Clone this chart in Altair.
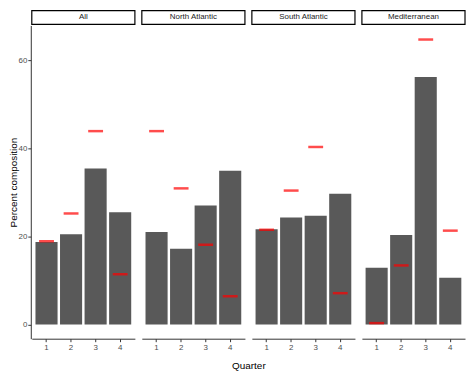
import altair as alt
import pandas as pd

regions = ["All", "North Atlantic", "South Atlantic", "Mediterranean"]
quarters = [1, 2, 3, 4]
bar_all = [18.7, 20.5, 35.4, 25.5]
bar_na = [21.0, 17.2, 27.0, 34.9]
bar_sa = [21.6, 24.3, 24.7, 29.7]
bar_med = [12.9, 20.3, 56.2, 10.6]
ref_all = [18.9, 25.2, 43.9, 11.4]
ref_na = [43.9, 30.9, 18.1, 6.4]
ref_sa = [21.5, 30.4, 40.3, 7.1]
ref_med = [0.3, 13.4, 64.7, 21.3]

bars_by_region = [bar_all, bar_na, bar_sa, bar_med]
refs_by_region = [ref_all, ref_na, ref_sa, ref_med]

rows = []
for r, bv, rv in zip(regions, bars_by_region, refs_by_region):
    for q, b, v in zip(quarters, bv, rv):
        rows.append({"region": r, "quarter": q, "pct": b, "ref": v})
df = pd.DataFrame(rows)

W = 104
H = 316

xenc = alt.X("quarter:O", title=None,
             scale=alt.Scale(paddingInner=0.1, paddingOuter=0.15),
             axis=alt.Axis(labelAngle=0, labelColor="#4D4D4D", labelFontSize=8,
                           domainColor="#333333", tickColor="#333333", tickSize=3,
                           labelPadding=2))
yscale = alt.Scale(domain=[-3.24, 67.9], nice=False, zero=False)
yaxis = alt.Axis(values=[0, 20, 40, 60], labelColor="#4D4D4D", labelFontSize=8,
                 domainColor="#333333", tickColor="#333333", tickSize=3,
                 labelPadding=1,
                 title="Percent composition", titleFontSize=10,
                 titleFontWeight="normal", titleColor="black", titlePadding=0)

base = alt.Chart()

bars = base.mark_bar(color="#595959").encode(
    x=xenc,
    y=alt.Y("pct:Q", scale=yscale, axis=yaxis),
)
ticks = base.mark_tick(color="#FF0000", thickness=2.5, size=15).encode(
    x=xenc,
    y=alt.Y("ref:Q", scale=yscale, axis=yaxis),
)
strip = base.transform_filter(alt.datum.quarter == 1).mark_rect(
    fill="white", stroke="black", strokeWidth=1.2
).encode(
    x=alt.value(0), x2=alt.value(W), y=alt.value(-15), y2=alt.value(-1)
)
strip_text = base.transform_filter(alt.datum.quarter == 1).mark_text(
    fontSize=8, color="#1A1A1A", baseline="middle", align="center"
).encode(
    text="region:N", x=alt.value(W / 2), y=alt.value(-8)
)

layered = alt.layer(bars, ticks, strip, strip_text, data=df).properties(width=W, height=H)

chart = layered.facet(
    column=alt.Column("region:N", sort=regions,
                      header=alt.Header(labels=False, title="Quarter", titleOrient="bottom",
                                        titleFontSize=10, titleFontWeight="normal",
                                        titleColor="black", titlePadding=0)),
    spacing=5,
).properties(
    padding={"left": 0, "top": 0, "right": 0, "bottom": 0}
).configure_view(stroke=None).configure_axis(grid=False)

chart.save("out.html", embed_options={"renderer": "svg", "actions": False})
